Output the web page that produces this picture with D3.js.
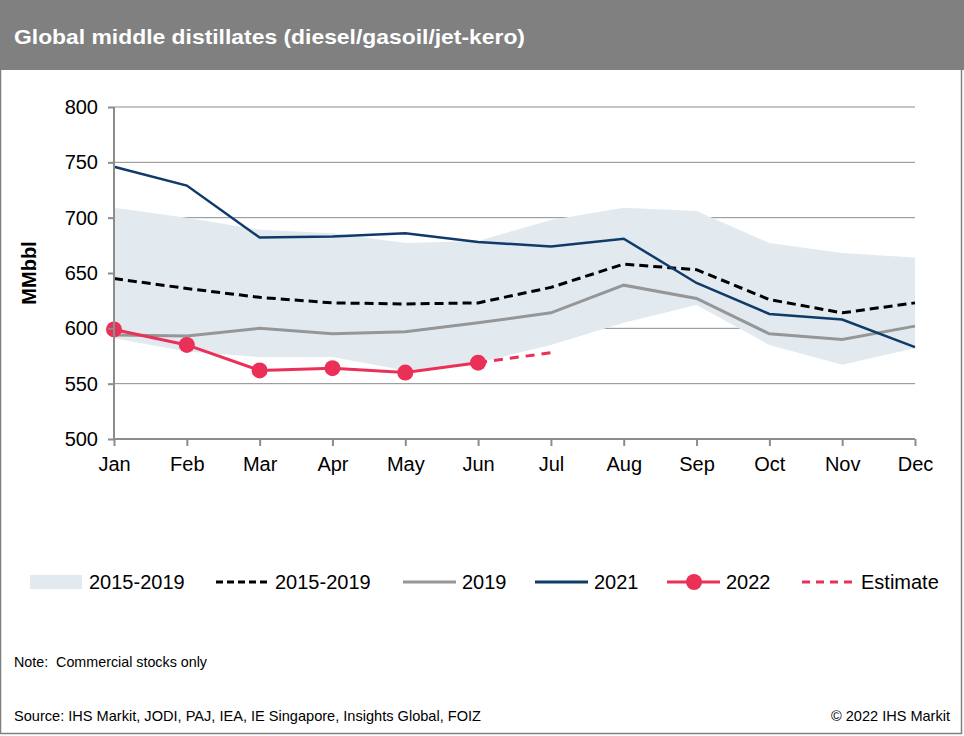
<!DOCTYPE html>
<html>
<head>
<meta charset="utf-8">
<script src="https://cdn.jsdelivr.net/npm/d3@7"></script>
<style>
  body { margin: 0; background: #fff; }
  svg { display: block; font-family: "Liberation Sans", Arial, sans-serif; }
</style>
</head>
<body>
<svg id="chart" width="964" height="736"></svg>
<script>
const months = ["Jan", "Feb", "Mar", "Apr", "May", "Jun", "Jul", "Aug", "Sep", "Oct", "Nov", "Dec"];
const rangeLow  = [591, 579, 574, 574, 562, 569, 585, 605, 621, 585, 567, 582];
const rangeHigh = [709, 700, 689, 686, 677, 679, 698, 709, 706, 677, 668, 664];
const avg5yr    = [645, 636, 628, 623, 622, 623, 637, 658, 653, 626, 614, 623];
const y2019     = [594, 593, 600, 595, 597, 605, 614, 639, 627, 595, 590, 602];
const y2021     = [746, 729, 682, 683, 686, 678, 674, 681, 641, 613, 608, 583];
const y2022     = [599, 585, 562, 564, 560, 569];
const estimate  = [569, 578];   // Jun -> Jul
const yTicks    = [500, 550, 600, 650, 700, 750, 800];

const svg = d3.select("#chart");
const W = 964, H = 736;
const margin = { left: 114, right: 49, top: 107, bottom: 297 };

const colors = { band: "#e2eaef", avg: "#000", y2019: "#969696", y2021: "#0e3b69", y2022: "#ea3057" };

// frame + title bar
svg.append("rect").attr("x", 0.5).attr("y", 0.5).attr("width", W - 3).attr("height", H - 3)
    .attr("fill", "#fff").attr("stroke", "#808080").attr("stroke-width", 1.5);
svg.append("rect").attr("x", 0).attr("y", 0).attr("width", W).attr("height", 70).attr("fill", "#808080");
svg.append("text").attr("x", 14).attr("y", 44)
    .attr("fill", "#fff").attr("font-size", 21).attr("font-weight", "bold")
    .attr("textLength", 511).attr("lengthAdjust", "spacingAndGlyphs")
    .text("Global middle distillates (diesel/gasoil/jet-kero)");

const x = d3.scalePoint().domain(months).range([margin.left, W - margin.right]);
const y = d3.scaleLinear().domain([500, 800]).range([H - margin.bottom, margin.top]);

// gridlines
svg.append("g").selectAll("line").data(yTicks.slice(1)).join("line")
    .attr("x1", margin.left).attr("x2", W - margin.right)
    .attr("y1", d => y(d)).attr("y2", d => y(d))
    .attr("stroke", "#8c8c8c").attr("stroke-width", 1);

// 2015-2019 range band
const band = d3.area()
    .x((d, i) => x(months[i]))
    .y0((d, i) => y(rangeLow[i]))
    .y1(d => y(d));
svg.append("path").datum(rangeHigh).attr("d", band).attr("fill", colors.band);

const line = d3.line().x((d, i) => x(months[i])).y(d => y(d));

svg.append("path").datum(y2019).attr("d", line)
    .attr("fill", "none").attr("stroke", colors.y2019).attr("stroke-width", 3);
svg.append("path").datum(avg5yr).attr("d", line)
    .attr("fill", "none").attr("stroke", colors.avg).attr("stroke-width", 3)
    .attr("stroke-dasharray", "9,5");
svg.append("path").datum(y2021).attr("d", line)
    .attr("fill", "none").attr("stroke", colors.y2021).attr("stroke-width", 2.5);

const estLine = d3.line().x((d, i) => x(months[i + 5])).y(d => y(d));
svg.append("path").datum(estimate).attr("d", estLine)
    .attr("fill", "none").attr("stroke", colors.y2022).attr("stroke-width", 3)
    .attr("stroke-dasharray", "9,7");

svg.append("path").datum(y2022).attr("d", line)
    .attr("fill", "none").attr("stroke", colors.y2022).attr("stroke-width", 3);
svg.append("g").selectAll("circle").data(y2022).join("circle")
    .attr("cx", (d, i) => x(months[i])).attr("cy", d => y(d)).attr("r", 8)
    .attr("fill", colors.y2022);

// axes
const yAxis = svg.append("g").attr("transform", `translate(${margin.left},0)`)
    .call(d3.axisLeft(y).tickValues(yTicks).tickSize(6).tickPadding(10));
const xAxis = svg.append("g").attr("transform", `translate(0,${H - margin.bottom})`)
    .call(d3.axisBottom(x).tickSize(7).tickPadding(11));
[yAxis, xAxis].forEach(g => {
    g.select(".domain").attr("stroke", "#8c8c8c").attr("stroke-width", 2);
    g.selectAll(".tick line").attr("stroke", "#8c8c8c").attr("stroke-width", 2);
    g.selectAll(".tick text").attr("fill", "#000").attr("font-size", 20)
        .attr("font-family", "'Liberation Sans', Arial, sans-serif");
});
yAxis.select(".domain").attr("d", `M0,${y(500)}V${y(800)}`);
xAxis.select(".domain").attr("d", `M${margin.left},0H${W - margin.right}`);

svg.append("text").attr("transform", `translate(36,${(y(500) + y(800)) / 2}) rotate(-90)`)
    .attr("text-anchor", "middle").attr("font-size", 20).attr("font-weight", "bold")
    .text("MMbbl");

// legend
const legendY = 582;
const legend = [
    { label: "2015-2019", x: 30, type: "band" },
    { label: "2015-2019", x: 216, type: "line", color: colors.avg, dash: "7,4", w: 3 },
    { label: "2019", x: 403, type: "line", color: colors.y2019, w: 3 },
    { label: "2021", x: 535, type: "line", color: colors.y2021, w: 3 },
    { label: "2022", x: 667, type: "line", color: colors.y2022, w: 3, marker: true },
    { label: "Estimate", x: 802, type: "line", color: colors.y2022, dash: "8,6", w: 3 }
];
const lg = svg.append("g").selectAll("g").data(legend).join("g")
    .attr("transform", d => `translate(${d.x},${legendY})`);
lg.filter(d => d.type === "band").append("rect")
    .attr("x", 0).attr("y", -7).attr("width", 52).attr("height", 14).attr("fill", colors.band);
lg.filter(d => d.type === "line").append("line")
    .attr("x1", 0).attr("x2", 53).attr("y1", 0).attr("y2", 0)
    .attr("stroke", d => d.color).attr("stroke-width", d => d.w)
    .attr("stroke-dasharray", d => d.dash || null);
lg.filter(d => d.marker).append("circle")
    .attr("cx", 27).attr("cy", 0).attr("r", 8).attr("fill", colors.y2022);
lg.append("text").attr("x", 59).attr("y", 7).attr("font-size", 20).text(d => d.label);

// notes
svg.append("text").attr("x", 14).attr("y", 667).attr("font-size", 15)
    .attr("textLength", 193).attr("lengthAdjust", "spacingAndGlyphs")
    .text("Note:\u00a0 Commercial stocks only");
svg.append("text").attr("x", 14).attr("y", 721).attr("font-size", 15)
    .attr("textLength", 467).attr("lengthAdjust", "spacingAndGlyphs")
    .text("Source: IHS Markit, JODI, PAJ, IEA, IE Singapore, Insights Global, FOIZ");
svg.append("text").attr("x", 831).attr("y", 721).attr("font-size", 15)
    .attr("textLength", 119).attr("lengthAdjust", "spacingAndGlyphs")
    .text("© 2022 IHS Markit");
</script>
</body>
</html>
